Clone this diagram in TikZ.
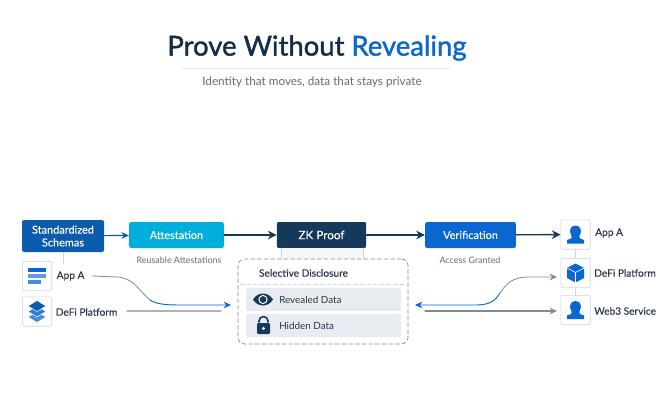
\documentclass[tikz,border=0pt]{standalone}
\usepackage{fontspec}
\setmainfont{Lato}
\newfontfamily\titlefont[FakeBold=1.4]{Lato}
\newfontfamily\labfont[FakeBold=0.15]{Lato}
\usetikzlibrary{arrows.meta,positioning}
\definecolor{figdark}{RGB}{20,57,91}
\definecolor{figtitle}{RGB}{22,45,72}
\definecolor{figblue}{RGB}{10,102,208}
\definecolor{figroyal}{RGB}{11,92,173}
\definecolor{figcyan}{RGB}{0,174,219}
\definecolor{figgray}{RGB}{125,138,155}
\definecolor{figtext}{RGB}{40,55,75}
\definecolor{figsub}{RGB}{95,108,125}
\definecolor{figrow}{RGB}{232,236,241}
\definecolor{figline}{RGB}{205,213,222}
\tikzset{
  every picture/.style={line cap=round,line join=round},
  stepbox/.style={rounded corners=1.5pt,text=white,font=\labfont\fontsize{8.2}{9.6}\selectfont,
    align=center,inner sep=0pt},
  iconbox/.style={rounded corners=1.5pt,draw=figline,fill=white,line width=.5pt,
    minimum width=22pt,minimum height=22pt,inner sep=0pt},
  lab/.style={font=\labfont\fontsize{7.6}{9}\selectfont,text=figtext,inner sep=0pt},
  smalllab/.style={font=\fontsize{6.7}{8}\selectfont,text=figsub,inner sep=0pt},
  rowbox/.style={rounded corners=1pt,fill=figrow,minimum width=116pt,minimum height=17.6pt,inner sep=0pt},
  mainflow/.style={-{Stealth[length=6.5pt,width=6.5pt]},line width=1pt,draw=figdark},
  bluearrow/.style={-{Stealth[length=5.5pt,width=5pt]},line width=.7pt,draw=figblue},
  grayarrow/.style={-{Stealth[length=5.5pt,width=5pt]},line width=.8pt,draw=figgray},
  grayline/.style={line width=.8pt,draw=figgray!65},
  stem/.style={line width=.6pt,draw=figline}
}
\begin{document}
\begin{tikzpicture}[x=.75pt,y=-.75pt]
  \useasboundingbox (0,0) rectangle (670,400);

  % Heading.
  \node[inner sep=0pt,font=\titlefont\fontsize{20.6}{26}\selectfont,text=figtitle] (title) at (317,48)
    {Prove Without \textcolor{figblue}{Revealing}};
  \draw[line width=.5pt,draw=figline!60] (182,68.5)--(450,68.5);
  \node[inner sep=0pt,font=\fontsize{8.8}{10}\selectfont,text=figsub] (subtitle) at (312,82)
    {Identity that moves, data that stays private};

  % The main chain of steps.
  \node[stepbox,fill=figroyal,minimum width=61.5pt,minimum height=24pt] (schemas) at (63,236)
    {Standardized\\Schemas};
  \node[stepbox,fill=figcyan,minimum width=71pt,minimum height=19.5pt] (attest) at (176.5,235) {Attestation};
  \node[stepbox,fill=figdark,minimum width=67pt,minimum height=19.5pt,font=\labfont\fontsize{8.8}{11}\selectfont] (zk) at (321.5,235) {ZK Proof};
  \node[stepbox,fill=figblue,minimum width=68pt,minimum height=19.5pt] (verify) at (470.5,235) {Verification};
  \node[iconbox] (rightA) at (575.5,234.5) {};
  \node[lab,anchor=west] (rightAlab) at (595,233) {App A};
  \draw[-{Stealth[length=5.5pt,width=5pt]},line width=.9pt,draw=figroyal] (schemas)--(attest);
  \draw[mainflow] (attest)--(zk);
  \draw[mainflow] (zk)--(verify);
  \draw[mainflow] (verify)--(rightA);
  \node[smalllab] (reusable) at (179,260) {Reusable Attestations};
  \node[smalllab] (granted) at (470,260) {Access Granted};

  % Left column.
  \node[iconbox] (leftA) at (37,276) {};
  \node[iconbox] (leftD) at (37,311.5) {};
  \node[lab,anchor=west] (leftAlab) at (56.5,276) {App A};
  \node[lab,anchor=west] (leftDlab) at (55.5,312) {DeFi Platform};
  \coordinate (stemfoot) at (63,264);
  \draw[stem] (schemas.south)--(stemfoot);
  \foreach \y/\w/\c in {269.5/18/figblue,275.5/18/figblue!65,281.5/13/figblue!75}{
    \fill[\c] (28,\y-2) rectangle (28+\w,\y+2);
  }
  \foreach \y/\c in {317/figblue!75,311.5/figblue!85,306/figroyal}{
    \filldraw[fill=\c,draw=white,line width=.4pt] (37,\y-5.5)--(46,\y)--(37,\y+5.5)--(28,\y)--cycle;
  }

  % Selective disclosure panel.
  \fill[figline!18] (281,248)rectangle(363,259);
  \draw[stem] (281,248)--(281,259) (363,248)--(363,259);
  \node[draw=figgray,densely dashed,fill=white,rounded corners=5pt,line width=.5pt,
    minimum width=127.5pt,minimum height=63.75pt,inner sep=0pt] (panel) at (323,301.5) {};
  \node[inner sep=0pt,font=\labfont\fontsize{7.6}{9}\selectfont,text=figtext] (seltitle) at (303.5,273) {Selective Disclosure};
  \draw[densely dashed,line width=.4pt,draw=figline] (240,284.5)--(406,284.5);
  \node[rowbox] (revealed) at (323.5,299.5) {};
  \node[rowbox] (hidden) at (323.5,325.5) {};
  \node[lab,anchor=west,font=\fontsize{7.4}{9}\selectfont] (revlab) at (279,299.5) {Revealed Data};
  \node[lab,anchor=west,font=\fontsize{7.4}{9}\selectfont] (hidlab) at (279,325.5) {Hidden Data};
  % eye and lock
  \fill[figdark] (253,299.5) .. controls (258,291.5) and (268,291.5) .. (273,299.5)
    .. controls (268,307.5) and (258,307.5) .. (253,299.5) -- cycle;
  \fill[white] (263,299.5) circle (4.6);
  \fill[figdark] (263,299.5) circle (3.4);
  \draw[figdark,line width=1.2pt] (259,322) -- (259,321) arc (180:360:4.5) -- (268,322);
  \fill[figdark,rounded corners=.8pt] (257,323) rectangle (270,334);
  \fill[white] (263.5,328.5) circle (1.6);

  % Incoming connectors on the left.
  \coordinate (leftAend) at (92,276);
  \coordinate (leftAmid) at (150,300);
  \coordinate (leftDend) at (127,311);
  \coordinate (panelW) at (231,305);
  \coordinate (panelWb) at (221,311);
  \draw[line width=.6pt,draw=figgray] (leftAend)--(118,277) .. controls (135,279) and (138,290) .. (leftAmid);
  \draw[bluearrow] (leftAmid) .. controls (156,304) and (165,305) .. (180,305)--(panelW);
  \draw[grayline] (leftDend)--(panelWb);

  % Right column.
  \node[iconbox] (rightD) at (575.5,273) {};
  \node[iconbox] (rightW) at (575.5,310) {};
  \node[lab,anchor=west] (rightDlab) at (594,273) {DeFi Platform};
  \node[lab,anchor=west] (rightWlab) at (594,311) {Web3 Service};
  \draw[stem] (rightA)--(rightD);
  \draw[stem] (rightD)--(rightW);
  \foreach \y in {234.5,310}{
    \fill[figblue] (575.5,\y-9) .. controls (570,\y-9) and (569,\y-3) .. (571,\y)
      .. controls (572,\y+2) and (572,\y+3) .. (571,\y+4) -- (567,\y+5.5) -- (567,\y+9) -- (584,\y+9)
      -- (584,\y+5.5) -- (580,\y+4) .. controls (579,\y+3) and (579,\y+2) .. (580,\y)
      .. controls (582,\y-3) and (581,\y-9) .. (575.5,\y-9) -- cycle;
  }
  \fill[figblue] (575.5,263.5)--(584,268)--(584,278)--(575.5,282.5)--(567,278)--(567,268)--cycle;
  \draw[white,line width=.5pt] (567,268)--(575.5,272.5)--(584,268) (575.5,272.5)--(575.5,282.5);
  \coordinate (panelE) at (415,305);
  \coordinate (rightmid) at (500,293);
  \coordinate (rightDend) at (557,277);
  \coordinate (panelEb) at (425,311);
  \coordinate (rightWend) at (557,311);
  \draw[bluearrow] (rightmid) .. controls (495,301) and (490,305) .. (475,305)--(panelE);
  \draw[grayarrow,line width=.6pt] (rightmid) .. controls (507,283) and (512,277) .. (530,277)--(rightDend);
  \draw[grayarrow] (panelEb)--(rightWend);
\end{tikzpicture}
\end{document}
